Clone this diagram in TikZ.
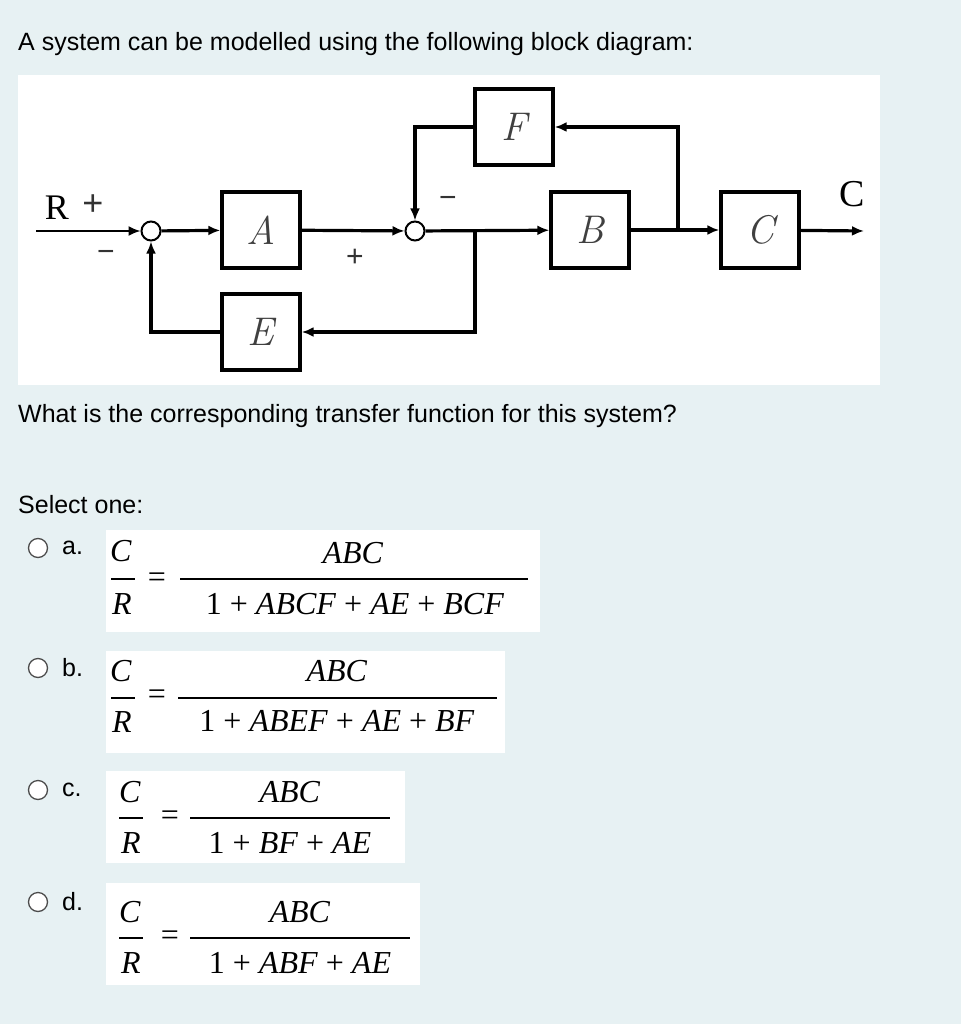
\documentclass[tikz,border=0pt]{standalone}
\usepackage{fontspec}
\setmainfont{Liberation Sans}
\newfontfamily\serif{Liberation Serif}
\newfontfamily\lmr{Latin Modern Roman}
\usetikzlibrary{arrows.meta}
\definecolor{pagebg}{HTML}{E7F1F3}
\begin{document}
\begin{tikzpicture}[x=1pt,y=-1pt,
  blk/.style={draw,line width=3.4pt,minimum width=78pt,minimum height=76pt,font=\lmr\itshape\fontsize{40}{40}\selectfont,fill=white,text=black!75},
  sj/.style={draw,line width=2pt,circle,minimum size=19pt,inner sep=0pt},
  sig/.style={line width=3.2pt,-{Latex[length=12pt,width=10pt]}},
  txt/.style={anchor=west,inner sep=0pt,font=\fontsize{25}{25}\selectfont},
  mt/.style={inner sep=0pt,font=\serif\fontsize{32}{32}\selectfont},
  fl/.style={line width=1.3pt},
  radio/.style={draw=black!70,line width=1.3pt,fill=white},
  wbox/.style={fill=white,draw=none}]
\fill[pagebg] (0,0) rectangle (961,1024);
\useasboundingbox (0,0) rectangle (961,1024);
\fill[white] (18,75) rectangle (880,385);
\node[txt] at (18,44) {A system can be modelled using the following block diagram:};
\node[txt] at (18,416) {What is the corresponding transfer function for this system?};
\node[txt] at (18,505) {Select one:};
% diagram
\node[sj] (s1) at (151,231) {};
\node[sj] (s2) at (415,231) {};
\node[blk] (A) at (261,230) {A};
\node[blk] (B) at (590,230) {B};
\node[blk] (C) at (760,230) {C};
\node[blk] (F) at (514,127) {F};
\node[blk] (E) at (261,332) {E};
\coordinate (rin) at (36,231);
\coordinate (cout) at (864,231);
\coordinate (br1) at (475,231);
\coordinate (br2) at (678,231);
\draw[sig,line width=1.8pt] (rin) -- (s1);
\draw[sig] (s1) -- (A);
\draw[sig] (A) -- (s2);
\draw[sig] (s2) -- (B);
\draw[sig] (B) -- (C);
\draw[sig] (C) -- (cout);
\draw[sig] (br1) |- (E.east);
\draw[sig] (E.west) -| (s1.south);
\draw[sig] (br2) |- (F.east);
\draw[sig] (F.west) -| (s2.north);
\node[font=\serif\fontsize{36}{36}\selectfont,inner sep=0pt] (rl) at (57,208) {R};
\node[font=\fontsize{36}{36}\selectfont,inner sep=0pt,text=black!80] (rp) at (93,205) {+};
\node[font=\fontsize{30}{30}\selectfont,inner sep=0pt,text=black!80] (m1) at (106,256) {−};
\node[font=\fontsize{30}{30}\selectfont,inner sep=0pt,text=black!80] (p2) at (355,258) {+};
\node[font=\fontsize{30}{30}\selectfont,inner sep=0pt,text=black!80] (m2) at (448,202) {−};
\node[font=\serif\fontsize{38}{38}\selectfont,inner sep=0pt] (cl) at (852,194) {C};
% options
\fill[wbox] (106,530) rectangle (540,632);
\fill[wbox] (106,651) rectangle (505,753);
\fill[wbox] (106,771) rectangle (405,863);
\fill[wbox] (106,883) rectangle (420,985);
\foreach \y/\l in {548/a.,668/b.,790/c.,902/d.}{
  \draw[radio] (38,\y) circle (9.5);
  \node[txt] at (62,\y) {\l};
}
% a
\node[mt] at (121,551) {\textit{C}};
\draw[fl] (111,579) -- (135,579);
\node[mt] at (122,604) {\textit{R}};
\node[mt] at (157,580) {=};
\draw[fl] (180,579) -- (528,579);
\node[mt] at (353,553) {\textit{ABC}};
\node[mt] at (355,604) {1 + \textit{ABCF} + \textit{AE} + \textit{BCF}};
% b
\node[mt] at (121,671) {\textit{C}};
\draw[fl] (111,698) -- (135,698);
\node[mt] at (122,722) {\textit{R}};
\node[mt] at (157,697) {=};
\draw[fl] (178,698) -- (497,698);
\node[mt] at (337,671) {\textit{ABC}};
\node[mt] at (337,721) {1 + \textit{ABEF} + \textit{AE} + \textit{BF}};
% c
\node[mt] at (130,792) {\textit{C}};
\draw[fl] (119,818) -- (143,818);
\node[mt] at (131,843) {\textit{R}};
\node[mt] at (170,818) {=};
\draw[fl] (190,818) -- (390,818);
\node[mt] at (290,792) {\textit{ABC}};
\node[mt] at (290,843) {1 + \textit{BF} + \textit{AE}};
% d
\node[mt] at (130,912) {\textit{C}};
\draw[fl] (119,938) -- (143,938);
\node[mt] at (131,963) {\textit{R}};
\node[mt] at (170,938) {=};
\draw[fl] (190,938) -- (410,938);
\node[mt] at (300,912) {\textit{ABC}};
\node[mt] at (300,963) {1 + \textit{ABF} + \textit{AE}};
\end{tikzpicture}
\end{document}
